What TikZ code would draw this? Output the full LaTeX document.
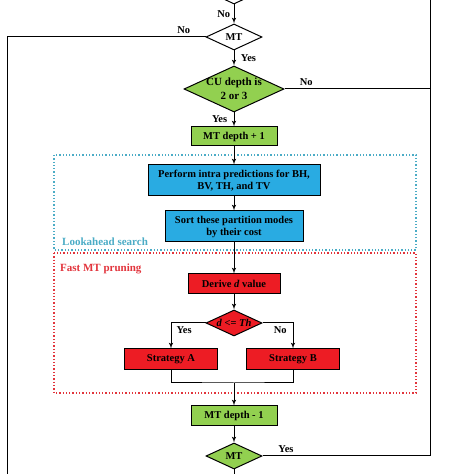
\documentclass[tikz,border=0pt]{standalone}
\usepackage{fontspec}
\setmainfont{Liberation Serif}
\usetikzlibrary{shapes,arrows}
\usetikzlibrary{positioning,calc}
\definecolor{mtgreen}{RGB}{146,208,80}
\definecolor{lsblue}{RGB}{41,171,226}
\definecolor{prred}{RGB}{237,28,36}
\definecolor{lsframe}{RGB}{75,172,198}
\definecolor{prframe}{RGB}{226,52,60}

\begin{document}
\begin{tikzpicture}[x=1pt, y=1pt, auto, font=\bfseries\fontsize{10.5}{12}\selectfont]
\tikzstyle{decision} = [ diamond, aspect=2, draw, line width=1pt, fill=white, minimum width=56pt, minimum height=26pt, inner sep=0pt, text centered ]
\tikzstyle{block} = [ rectangle, draw, line width=1pt, text centered, inner sep=1pt ]
\tikzstyle{line} = [ draw, line width=1pt, -latex' ]
\tikzstyle{wire} = [ draw, line width=1pt ]
\tikzstyle{frame} = [ dotted, line width=1.3pt ]
\clip (0,0) rectangle (474,474);
% frames
\draw [frame, lsframe] (54,319) rectangle (416,224);
\draw [frame, prframe] (54,221) rectangle (416,81);
\node [anchor=west, text=lsframe, inner sep=0pt, font=\bfseries\fontsize{11}{13}\selectfont] (ls-label) at (62,232) {Lookahead search};
\node [anchor=west, text=prframe, inner sep=0pt, font=\bfseries\fontsize{11}{13}\selectfont] (pr-label) at (60,205) {Fast MT pruning};
% place nodes
\node [decision] (top) at (234,483) {};
\node [decision, below of=top, node distance=46pt] (mt-1) {MT};
\node [decision, fill=mtgreen, minimum width=100pt, minimum height=46pt, below of=mt-1, node distance=52pt, label={[align=center, font=\bfseries\fontsize{11}{14}\selectfont]center:CU depth is\\2 or 3}] (cu) {};
\node [block, fill=mtgreen, minimum width=86pt, minimum height=19pt, below of=cu, node distance=47.5pt] (inc) {MT depth + 1};
\node [block, fill=lsblue, minimum width=172pt, minimum height=31pt, align=center, below of=inc, node distance=44pt] (perform) {Perform intra predictions for BH,\\BV, TH, and TV};
\node [block, fill=lsblue, minimum width=138pt, minimum height=31pt, align=center, below of=perform, node distance=46pt] (sort) {Sort these partition modes\\by their cost};
\node [block, fill=prred, minimum width=92pt, minimum height=20pt, below of=sort, node distance=57.5pt] (derive) {Derive \textit{d} value};
\node [decision, fill=prred, below of=derive, node distance=39pt, label={center:\textit{d} <= \textit{Th}}] (dth) {};
\node [block, fill=prred, minimum width=93pt, minimum height=21pt, below of=dth, node distance=36.5pt, xshift=-63pt] (strat-a) {Strategy A};
\node [block, fill=prred, minimum width=93pt, minimum height=21pt, below of=dth, node distance=36.5pt, xshift=59pt] (strat-b) {Strategy B};
\coordinate [below of=dth, node distance=60pt] (merge);
\node [block, fill=mtgreen, minimum width=86pt, minimum height=20pt, below of=dth, node distance=93pt] (dec) {MT depth - 1};
\node [decision, fill=mtgreen, below of=dec, node distance=40pt] (mt-2) {MT};
\coordinate (left-end) at (7,-10);
\coordinate (right-top) at (430,484);
\coordinate (right-low) at (430,18);
\coordinate (down-end) at (234,-10);

% draw edges
\path [line] (top) -- node [swap] {No} (mt-1) ;
\path [wire] (mt-1.west) -- node [pos=0.11, swap] {No} (mt-1.west -| left-end) -- (left-end) ;
\path [line] (mt-1) -- node [xshift=3pt] {Yes} (cu) ;
\path [wire] (cu.east) -- node [pos=0.15] {No} (cu.east -| right-top) ;
\path [line] (cu) -- node [swap, xshift=-3pt] {Yes} (inc) ;
\path [line] (inc) -- (perform) ;
\path [line] (perform) -- (sort) ;
\path [line] (sort) -- (derive) ;
\path [line] (derive) -- (dth) ;
\path [line] (dth.west) -| node [pos=0.31] {Yes} (strat-a.north) ;
\path [line] (dth.east) -| node [pos=0.29, swap] {No} (strat-b.north) ;
\path [wire] (strat-a.south) |- (merge) -| (strat-b.south) ;
\path [line] (merge) -- (dec) ;
\path [line] (dec) -- (mt-2) ;
\path [wire] (mt-2.east) -- node [pos=0.14] {Yes} (right-low) -- (right-top) ;
\path [wire] (mt-2.south) -- (down-end) ;

\end{tikzpicture}
\end{document}
